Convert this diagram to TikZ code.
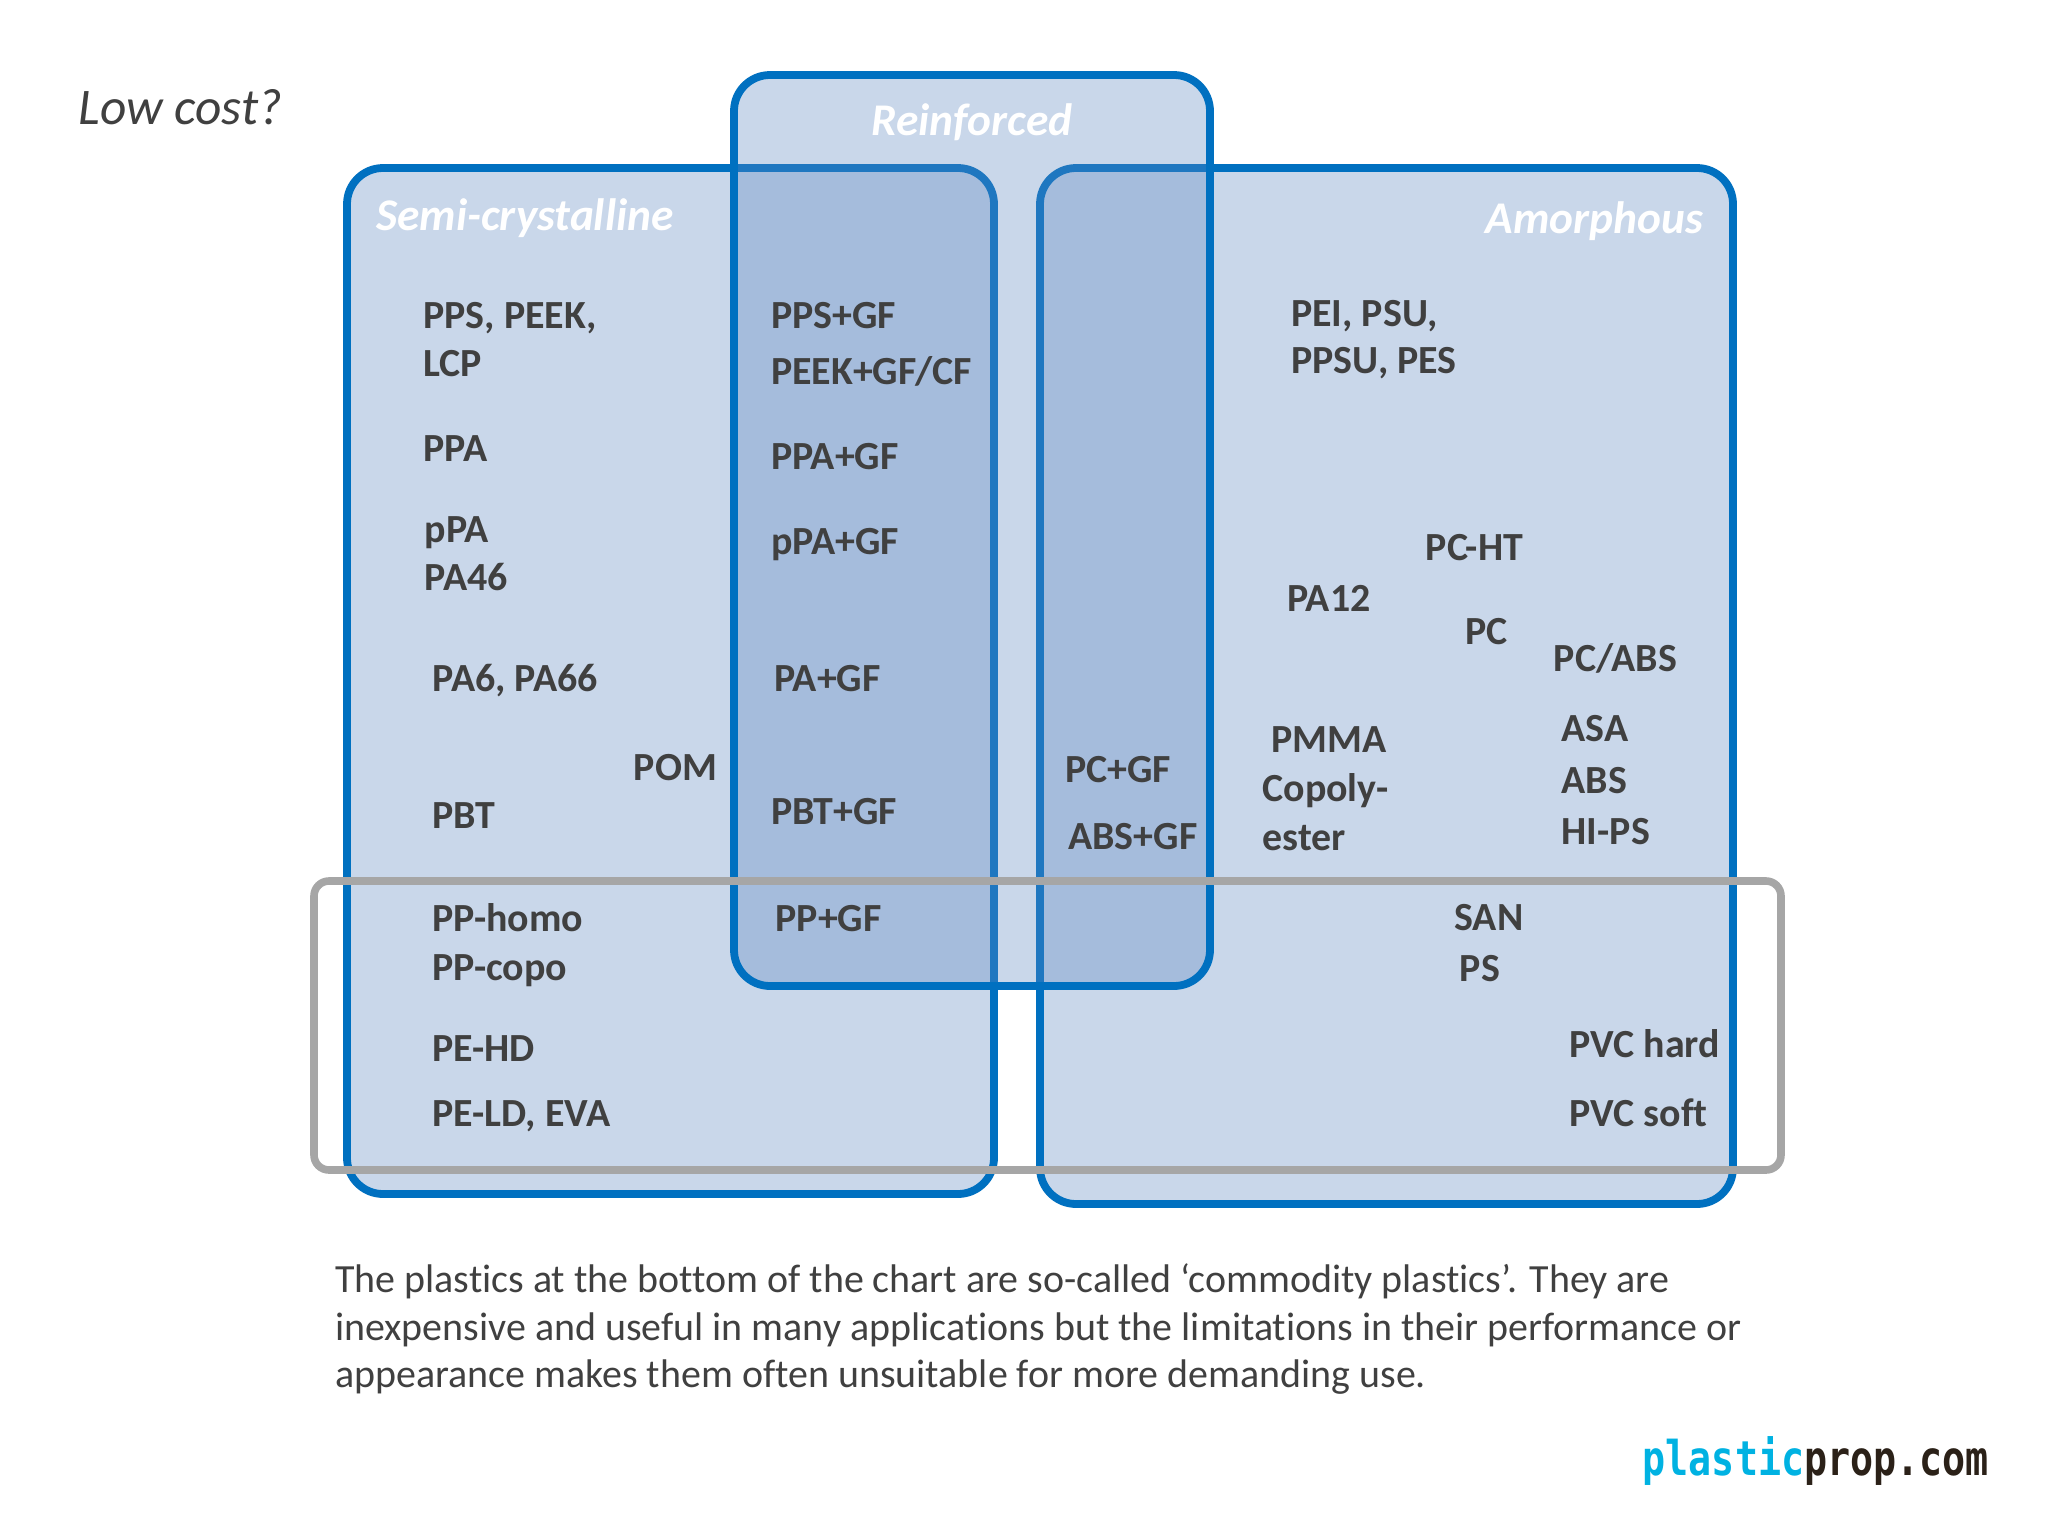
\documentclass[tikz,border=0pt]{standalone}
\usepackage{fontspec}
\setmainfont{Carlito}[Ligatures=NoCommon]
\newfontfamily\logofont{DejaVu Sans Mono}[Scale=1]
\definecolor{boxblue}{RGB}{0,112,192}
\definecolor{boxfill}{RGB}{93,135,192}
\definecolor{framegray}{RGB}{166,166,166}
\definecolor{labeltext}{RGB}{64,64,64}
\definecolor{logocyan}{RGB}{0,178,226}
\definecolor{logodark}{RGB}{43,33,24}
\tikzset{
  setbox/.style={draw=boxblue,line width=7.8*0.01cm,fill=boxfill,fill opacity=0.333,draw opacity=1,rounded corners=36*0.01cm},
  frame/.style={draw=framegray,line width=7.6*0.01cm,rounded corners=15*0.01cm},
  lab/.style={anchor=base west,inner sep=0pt,outer sep=0pt,text=labeltext,font=\fontsize{11.35pt}{13pt}\selectfont\bfseries},
  ttl/.style={anchor=base west,inner sep=0pt,outer sep=0pt,text=white,font=\fontsize{12.9pt}{15pt}\selectfont\bfseries\itshape},
  para/.style={anchor=base west,inner sep=0pt,outer sep=0pt,text=labeltext,font=\fontsize{11.36pt}{13pt}\selectfont},
}
\begin{document}
\begin{tikzpicture}[x=0.01cm,y=-0.01cm]
\useasboundingbox (0,0) rectangle (2048,1536);
\fill[white] (0,0) rectangle (2048,1536);
% sets
\path[setbox] (347,168) rectangle (994,1194);
\path[setbox] (1040,168) rectangle (1733,1204);
\path[setbox] (734,75) rectangle (1210,986);
\path[frame] (314,881) rectangle (1781,1170);
\begin{scope}[x=0.0130612cm,y=-0.0130612cm]
\node[anchor=base west,inner sep=0pt,text=labeltext,font=\fontsize{14.6pt}{16pt}\selectfont\itshape] (low) at (59.5,95) {Low cost?};
\node[ttl] (t1) at (667,103.5) {Reinforced};
\node[ttl] (t2) at (288,176) {Semi-crystalline};
\node[ttl] (t3) at (1137,178.5) {Amorphous};
\node[lab] (a1) at (324,251) {PPS, PEEK,};
\node[lab] (a2) at (324,288) {LCP};
\node[lab] (a3) at (324,353) {PPA};
\node[lab] (a4) at (325,415) {pPA};
\node[lab] (a5) at (325,452) {PA46};
\node[lab] (a6) at (331,529) {PA6, PA66};
\node[lab] (a7) at (485,597) {POM};
\node[lab] (a8) at (331,634) {PBT};
\node[lab] (a9) at (331,713) {PP-homo};
\node[lab] (a10) at (331,750) {PP-copo};
\node[lab] (a11) at (331,812) {PE-HD};
\node[lab] (a12) at (331,862) {PE-LD, EVA};
\node[lab] (b1) at (590,251) {PPS+GF};
\node[lab] (b2) at (590,294) {PEEK+GF/CF};
\node[lab] (b3) at (590,359) {PPA+GF};
\node[lab] (b4) at (590,424) {pPA+GF};
\node[lab] (b5) at (592.5,529) {PA+GF};
\node[lab] (b6) at (590,631) {PBT+GF};
\node[lab] (b7) at (593.5,713) {PP+GF};
\node[lab] (c1) at (815,599) {PC+GF};
\node[lab] (c2) at (817.5,650) {ABS+GF};
\node[lab] (d1) at (988,250) {PEI, PSU,};
\node[lab] (d2) at (988,286) {PPSU, PES};
\node[lab] (d3) at (1091,429) {PC-HT};
\node[lab] (d4) at (985,468) {PA12};
\node[lab] (d5) at (1121,493) {PC};
\node[lab] (d6) at (1189,514) {PC/ABS};
\node[lab] (d7) at (973,576) {PMMA};
\node[lab] (d8) at (966,613.5) {Copoly-};
\node[lab] (d9) at (966,650.5) {ester};
\node[lab] (d10) at (1195,567) {ASA};
\node[lab] (d11) at (1195,607) {ABS};
\node[lab] (d12) at (1195,646) {HI-PS};
\node[lab] (d13) at (1113,712) {SAN};
\node[lab] (d14) at (1117,751) {PS};
\node[lab] (d15) at (1201,809) {PVC hard};
\node[lab] (d16) at (1201,862) {PVC soft};
\node[para] (p1) at (256.5,989) {The plastics at the bottom of the chart are so-called ‘commodity plastics’. They are};
\node[para] (p2) at (256.5,1025.5) {inexpensive and useful in many applications but the limitations in their performance or};
\node[para] (p3) at (256.5,1062) {appearance makes them often unsuitable for more demanding use.};
\end{scope}
\node[anchor=base west,inner sep=0pt] (logo) at (1642,1475) {\scalebox{1}[1.25]{\logofont\bfseries\fontsize{10.9pt}{12pt}\selectfont\textcolor{logocyan}{plastic}\textcolor{logodark}{prop.com}}};
\end{tikzpicture}
\end{document}
